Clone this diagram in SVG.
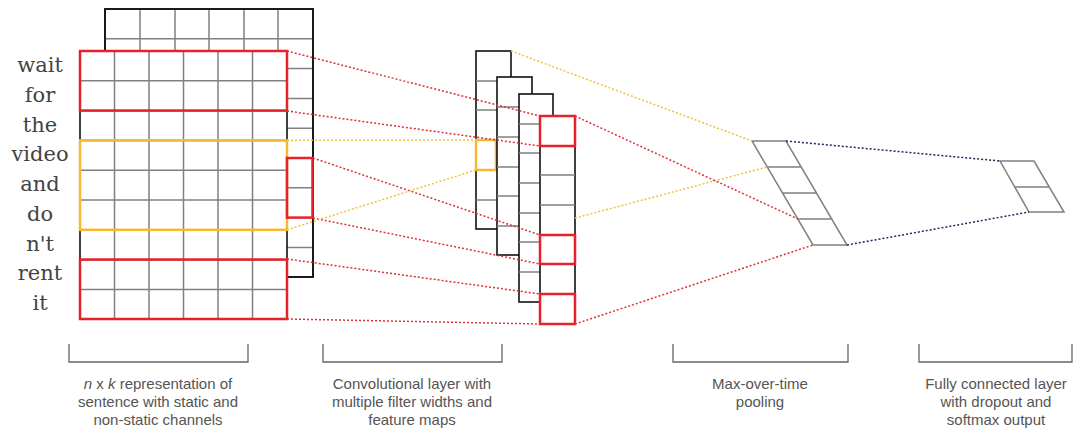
<svg xmlns="http://www.w3.org/2000/svg" width="1080" height="437" viewBox="0 0 1080 437">
<style>
.g{stroke:#808080;stroke-width:1.5;fill:none}
.k{stroke:#111;stroke-width:1.6;fill:#fff}
.kf{stroke:#111;stroke-width:1.6;fill:none}
.r{stroke:#e8202a;stroke-width:2.5;fill:none}
.y{stroke:#f5b82e;stroke-width:2.5;fill:none}
.dr{stroke:#e0303a;stroke-width:1.5;stroke-dasharray:2 2;fill:none}
.dy{stroke:#f0c040;stroke-width:1.5;stroke-dasharray:2 2;fill:none}
.db{stroke:#1c2c5c;stroke-width:1.5;stroke-dasharray:2 2;fill:none}
.w{font-family:"DejaVu Serif",serif;font-size:21px;fill:#444;text-anchor:middle}
.l{font-family:"Liberation Sans",Arial,sans-serif;font-size:15px;fill:#555;text-anchor:middle}
.b{stroke:#666;stroke-width:1.3;fill:none}
</style>
<rect width="1080" height="437" fill="#fff"/>
<g id="back-matrix">
<rect class="k" x="105" y="9" width="208" height="268"/>
<path class="g" d="M140 9V51M175 9V51M209 9V51M244 9V51M278 9V51M105 38.8H313M287 68.6H313M287 98.4H313M287 128.2H313M287 187.8H313M287 247.4H313"/>
<rect class="kf" x="105" y="9" width="208" height="268"/>
</g>
<g id="front-matrix">
<rect x="80" y="51" width="207" height="268" fill="#fff" stroke="#111" stroke-width="1.6"/>
<path class="g" d="M114.5 51V319M149 51V319M183.5 51V319M218 51V319M252.5 51V319M80 80.8H287M80 110.6H287M80 140.4H287M80 170.2H287M80 200H287M80 229.8H287M80 259.6H287M80 289.4H287"/>
<rect class="r" x="80" y="51" width="207" height="59.6"/>
<rect class="y" x="80" y="140.4" width="207" height="89.4"/>
<rect class="r" x="80" y="259.6" width="207" height="59.4"/>
<rect class="r" x="287" y="158" width="25.5" height="59.6"/>
</g>
<g id="conv-layer">
<rect class="k" x="476" y="51" width="35" height="178"/>
<path class="g" d="M476 81H497M476 110H497M476 200H497"/>
<rect class="y" x="476" y="140" width="20" height="30"/>
<rect class="k" x="497" y="77" width="35" height="178"/>
<path class="g" d="M497 107H519M497 137H519M497 167H519M497 196H519M497 226H519"/>
<rect class="k" x="519" y="94" width="34" height="208"/>
<path class="g" d="M519 124H540M519 153H540M519 183H540M519 213H540M519 242H540M519 272H540"/>
<rect class="k" x="540" y="116" width="35" height="208"/>
<path class="g" d="M540 175H575M540 205H575"/>
<rect class="r" x="540" y="116" width="35" height="30"/>
<rect class="r" x="540" y="235" width="35" height="29"/>
<rect class="r" x="540" y="294" width="35" height="30"/>
</g>
<g id="pooling">
<path class="g" d="M752 141H786L847 245H813ZM767 167H801M782 193H816M798 219H832"/>
</g>
<g id="output">
<path class="g" d="M1000 161H1034L1064 212H1029ZM1014.5 187H1049"/>
</g>
<g id="connectors">
<path class="dr" d="M287 51L540 116M287 111L540 146M313 158L540 235M313 218L540 264M287 259L540 294M287 319L540 324"/>
<path class="dy" d="M287 140.4L476 140M287 229.8L476 170M511 51L752 141M575 218L767 167"/>
<path class="dr" d="M575 116L798 219M575 324L813 245"/>
<path class="db" d="M786 141L1000 161M847 245L1029 212"/>
</g>
<g id="words">
<text class="w" x="40" y="72">wait</text>
<text class="w" x="40" y="102">for</text>
<text class="w" x="40" y="132">the</text>
<text class="w" x="40" y="161">video</text>
<text class="w" x="40" y="191">and</text>
<text class="w" x="40" y="221">do</text>
<text class="w" x="40" y="251">n't</text>
<text class="w" x="40" y="280">rent</text>
<text class="w" x="40" y="310">it</text>
</g>
<g id="labels">
<path class="b" d="M69 344V362H248V344M323 344V362H502V344M673 344V362H848V344M919 344V362H1072V344"/>
<text class="l" x="158" y="389"><tspan font-style="italic">n</tspan> x <tspan font-style="italic">k</tspan> representation of</text>
<text class="l" x="158" y="407">sentence with static and</text>
<text class="l" x="158" y="425">non-static channels</text>
<text class="l" x="412" y="389">Convolutional layer with</text>
<text class="l" x="412" y="407">multiple filter widths and</text>
<text class="l" x="412" y="425">feature maps</text>
<text class="l" x="760" y="389">Max-over-time</text>
<text class="l" x="760" y="407">pooling</text>
<text class="l" x="996" y="389">Fully connected layer</text>
<text class="l" x="996" y="407">with dropout and</text>
<text class="l" x="996" y="425">softmax output</text>
</g>
</svg>
